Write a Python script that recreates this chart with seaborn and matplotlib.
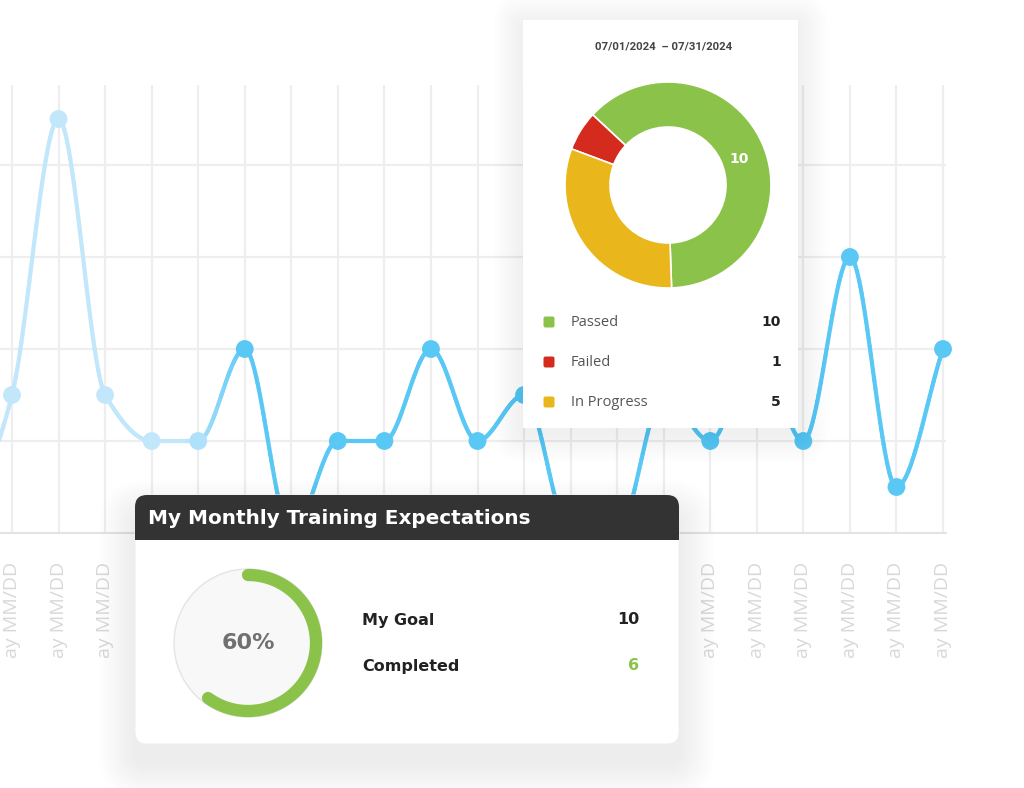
import numpy as np
import pandas as pd
import matplotlib
matplotlib.use("Agg")
import matplotlib.pyplot as plt
import seaborn as sns
from matplotlib.patches import FancyBboxPatch, Rectangle, Circle
from matplotlib.collections import LineCollection
from matplotlib.colors import LinearSegmentedColormap, Normalize

# ---------------- data ----------------
day_index = list(range(-1, 21))
day_labels = ["ay MM/DD"] * len(day_index)
completions = [0, 1.5, 4.5, 1.5, 1, 1, 2, 0, 1, 1, 2, 1, 1.5, 0, 0, 1.5, 1, 2, 1, 3, 0.5, 2]

date_range = "07/01/2024  \u2013 07/31/2024"
status_labels = ["Passed", "Failed", "In Progress"]
status_counts = [10, 1, 5]
status_colors = ["#8BC34A", "#D52B1E", "#E9B61B"]

card_title = "My Monthly Training Expectations"
goal_label = "My Goal"
done_label = "Completed"
goal = 10
completed = 6

# ---------------- style ----------------
sns.set_theme(style="white")
plt.rcParams["font.family"] = ["Open Sans", "DejaVu Sans"]

W, H = 1024, 788
fig = plt.figure(figsize=(W / 100, H / 100), dpi=100)
fig.patch.set_facecolor("white")

LIGHT = "#c2e7fb"
FULL = "#5ac8f5"
GREEN = "#8BC34A"
WIDE = ["DejaVu Sans"]


def monotone_curve(x, y, per=40):
    x = np.asarray(x, float)
    y = np.asarray(y, float)
    h = np.diff(x)
    d = np.diff(y) / h
    m = np.empty_like(y)
    m[0], m[-1] = d[0], d[-1]
    for i in range(1, len(y) - 1):
        if d[i - 1] * d[i] <= 0:
            m[i] = 0.0
        else:
            w1 = 2 * h[i] + h[i - 1]
            w2 = h[i] + 2 * h[i - 1]
            m[i] = (w1 + w2) / (w1 / d[i - 1] + w2 / d[i])
    xs, ys = [], []
    for i in range(len(h)):
        t = np.linspace(0, 1, per, endpoint=(i == len(h) - 1))
        h00 = 2 * t**3 - 3 * t**2 + 1
        h10 = t**3 - 2 * t**2 + t
        h01 = -2 * t**3 + 3 * t**2
        h11 = t**3 - t**2
        xs.append(x[i] + t * h[i])
        ys.append(h00 * y[i] + h10 * h[i] * m[i] + h01 * y[i + 1] + h11 * h[i] * m[i + 1])
    return np.concatenate(xs), np.concatenate(ys)


# ---------------- line chart ----------------
px_left, px_right, px_top, px_bottom = 0, 946, 85, 533
step = (943 - 12) / 20
ax = fig.add_axes([px_left / W, (H - px_bottom) / H, (px_right - px_left) / W,
                   (px_bottom - px_top) / H])
ax.set_zorder(1)
ax.set_facecolor("white")

lo, hi = min(day_index), max(day_index)
span = hi - lo
cmap = LinearSegmentedColormap.from_list(
    "fade", [(0, LIGHT), ((3.7 - lo) / span, LIGHT), ((5.0 - lo) / span, FULL), (1, FULL)])
norm = Normalize(lo, hi)

xs, ys = monotone_curve(day_index, completions)
pts = np.column_stack([xs, ys])
segs = np.stack([pts[:-1], pts[1:]], axis=1)
lc = LineCollection(segs, colors=cmap(norm((xs[:-1] + xs[1:]) / 2)), linewidths=3.0,
                    capstyle="round", zorder=3)
ax.add_collection(lc)

df = pd.DataFrame({"day": day_index, "value": completions})
sns.scatterplot(data=df, x="day", y="value", hue="day", palette=cmap, hue_norm=(lo, hi),
                s=165, linewidth=0, legend=False, ax=ax, zorder=4, clip_on=False)

ax.set_xticks(day_index)
ax.set_xticklabels(day_labels, rotation=90, color="#d8d8d8", fontsize=14)
ax.set_yticks([1, 2, 3, 4])
ax.set_yticklabels([])
ax.tick_params(axis="x", length=0, pad=21)
ax.tick_params(axis="y", length=0)
ax.grid(True, color="#eeeeee", linewidth=1.6)
ax.set_axisbelow(True)
for sp in ["top", "right", "left"]:
    ax.spines[sp].set_visible(False)
ax.spines["bottom"].set_color("#e4e4e4")
ax.spines["bottom"].set_linewidth(1.5)
ax.set_xlabel("")
ax.set_ylabel("")
ax.set_xlim(-12 / step, 20 + 3 / step)
ax.set_ylim(0, (px_bottom - px_top) / 92)

# labels that sit fully under the bottom card are hidden by it in the reference
bc = (135, 495, 679, 744)
for lbl, pos in zip(ax.get_xticklabels(), day_index):
    px = 12 + step * pos
    if bc[0] + 5 < px < bc[2] - 5:
        lbl.set_visible(False)

# ---------------- overlay (cards) ----------------
ov = fig.add_axes([0, 0, 1, 1])
ov.set_zorder(2)
ov.patch.set_alpha(0)
ov.set_xlim(0, W)
ov.set_ylim(H, 0)
ov.axis("off")


def shadow(x0, y0, x1, y1, spread, dy, alpha, rad):
    for k in range(spread, 0, -2):
        p = FancyBboxPatch((x0 - k, y0 - k + dy), (x1 - x0) + 2 * k, (y1 - y0) + 2 * k,
                           boxstyle=f"round,pad=0,rounding_size={rad + k}",
                           fc="black", ec="none", alpha=alpha, zorder=1)
        ov.add_patch(p)


# donut card
dc = (523, 20, 798, 428)
shadow(*dc, spread=30, dy=4, alpha=0.0042, rad=2)
ov.add_patch(Rectangle((dc[0], dc[1]), dc[2] - dc[0], dc[3] - dc[1], fc="white", ec="none",
                       zorder=2))
ov.text(664, 46, date_range, ha="center", va="center", fontsize=8.2, fontweight="bold",
        color="#444444", family=["Roboto", "DejaVu Sans"], zorder=5)
for i, (lab, cnt, col) in enumerate(zip(status_labels, status_counts, status_colors)):
    yy = 322 + 40 * i
    ov.add_patch(FancyBboxPatch((543.5, yy - 5.5), 11, 11, boxstyle="round,pad=0,rounding_size=2",
                                fc=col, ec="none", zorder=5))
    ov.text(571, yy, lab, ha="left", va="center", fontsize=10.5, color="#555555", zorder=5)
    ov.text(781, yy, str(cnt), ha="right", va="center", fontsize=10, fontweight="bold",
            color="#222222", family=WIDE, zorder=5)

# bottom card
shadow(*bc, spread=36, dy=20, alpha=0.0048, rad=12)
ov.add_patch(FancyBboxPatch((bc[0], bc[1]), bc[2] - bc[0], bc[3] - bc[1],
                            boxstyle="round,pad=0,rounding_size=12", fc="white", ec="#efefef",
                            lw=0.8, zorder=2))
header = FancyBboxPatch((bc[0], bc[1]), bc[2] - bc[0], 70,
                        boxstyle="round,pad=0,rounding_size=12", fc="#333333", ec="none", zorder=3)
ov.add_patch(header)
clip = Rectangle((0, 0), W, 540, transform=ov.transData)
header.set_clip_path(clip)
ov.text(148, 519, card_title, ha="left", va="center", fontsize=14.4, fontweight="bold",
        color="white", family=WIDE, zorder=5)

# gauge
gcx, gcy = 248, 643
ov.add_patch(Circle((gcx, gcy), 74, fc="#f8f8f8", ec="#e4e4e4", lw=1, zorder=4))
frac = completed / goal
theta = np.deg2rad(np.linspace(90, 90 - 360 * frac, 200))
ov.plot(gcx + 68 * np.cos(theta), gcy - 68 * np.sin(theta), color=GREEN, lw=8.8,
        solid_capstyle="round", zorder=5)
ov.text(gcx, gcy, f"{round(100 * frac)}%", ha="center", va="center", fontsize=16,
        fontweight="bold", color="#707070", family=WIDE, zorder=6)

for yy, lab, val, col in [(620, goal_label, goal, "#222222"), (666, done_label, completed, GREEN)]:
    ov.text(362, yy, lab, ha="left", va="center", fontsize=11.5, fontweight="bold",
            color="#222222", family=WIDE, zorder=5)
    ov.text(639, yy, str(val), ha="right", va="center", fontsize=11.5, fontweight="bold",
            color=col, family=WIDE, zorder=5)

# ---------------- donut ----------------
pcx, pcy, pr = 668, 185, 103
axp = fig.add_axes([(pcx - pr) / W, (H - pcy - pr) / H, 2 * pr / W, 2 * pr / H])
axp.set_zorder(3)
axp.patch.set_alpha(0)
wedges, _ = axp.pie(status_counts, colors=status_colors, startangle=272, counterclock=True,
                    radius=1, wedgeprops=dict(width=45 / pr, edgecolor="white", linewidth=1.2))
axp.set_xlim(-1, 1)
axp.set_ylim(-1, 1)
w0 = wedges[0]
mid = np.deg2rad((w0.theta1 + w0.theta2) / 2)
axp.text(0.76 * np.cos(mid), 0.76 * np.sin(mid) - 0.06, str(status_counts[0]), ha="center",
         va="center", color="white", fontsize=10, fontweight="bold", family=WIDE)

fig.savefig("out.png", dpi=100, facecolor="white")
